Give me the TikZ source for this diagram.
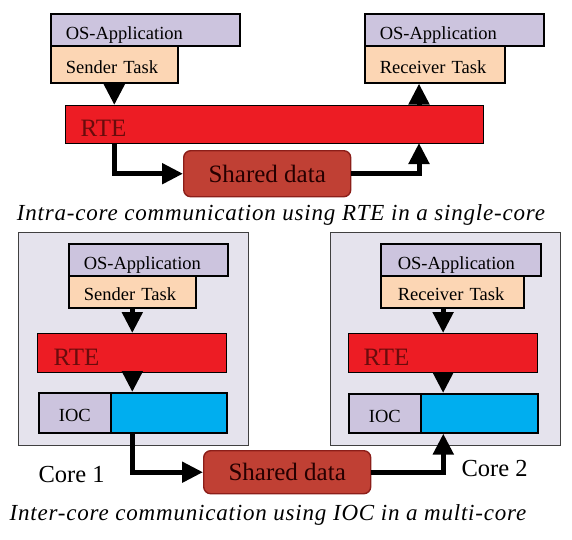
\documentclass[tikz,border=0pt]{standalone}
\usepackage{fontspec}
\setmainfont{Liberation Serif}
\newfontfamily\capfont[LetterSpace=3.5]{Liberation Serif}
\usetikzlibrary{arrows.meta,positioning}

\definecolor{osfill}{RGB}{204,196,222}
\definecolor{taskfill}{RGB}{252,214,180}
\definecolor{rtefill}{RGB}{237,28,36}
\definecolor{rtetext}{RGB}{105,12,12}
\definecolor{shfill}{RGB}{192,64,52}
\definecolor{shdraw}{RGB}{140,30,25}
\definecolor{iocfill}{RGB}{0,174,239}
\definecolor{corefill}{RGB}{229,227,237}

\begin{document}
\begin{tikzpicture}[x=1pt, y=-1pt, >={Triangle[width=20pt,length=21pt]},
    osbox/.style={draw, fill=osfill, line width=1.6pt, anchor=north west,
        minimum height=32pt, inner xsep=15pt, inner ysep=0pt,
        text height=20pt, text depth=0pt, align=left,
        font=\fontsize{18.5}{18.5}\selectfont},
    taskbox/.style={osbox, fill=taskfill, text height=18pt},
    rtebar/.style={draw, fill=rtefill, line width=1.2pt, anchor=north west,
        minimum height=38pt, inner xsep=15pt, inner ysep=0pt,
        text height=24pt, text depth=0pt, align=left, text=rtetext,
        font=\fontsize{25}{25}\selectfont},
    iocbar/.style={draw, fill=iocfill, line width=1.6pt, anchor=north west,
        minimum height=40pt},
    ioclab/.style={draw, fill=osfill, line width=1.6pt, anchor=north west,
        minimum height=40pt, minimum width=72pt, inner xsep=17pt,
        text height=18pt, text depth=0pt, align=left,
        font=\fontsize{18.5}{18.5}\selectfont},
    shared/.style={draw=shdraw, fill=shfill, line width=1.4pt, rounded corners=7pt,
        anchor=north west, minimum width=167pt, text=black!85!red,
        font=\fontsize{25}{25}\selectfont},
    corebox/.style={draw=black!75, fill=corefill, line width=1.3pt, anchor=north west,
        minimum width=230pt, minimum height=213pt},
    flow/.style={line width=5pt},
    caption/.style={font=\capfont\fontsize{23}{23}\selectfont\itshape, anchor=base},
    corelab/.style={font=\fontsize{24.5}{24.5}\selectfont, anchor=base west}
]
    \useasboundingbox (0,0) rectangle (572,539);

    % single-core: sender and receiver side
    \node[osbox, text width=159pt] (osT1) at (50,13) {OS-Application};
    \node[taskbox, text width=97pt, minimum height=37pt] (sendT) at (50,45) {Sender Task};
    \node[osbox, text width=149pt] (osT2) at (364,13) {OS-Application};
    \node[taskbox, text width=110pt, minimum height=37pt] (recvT) at (364,45) {Receiver Task};

    \node[rtebar, text width=388pt] (rteT) at (65,105) {RTE};
    \node[shared, minimum height=46pt] (shT) at (183,150) {Shared data};

    \coordinate (upT) at (419,143);

    % arrows
    \draw[flow,->] (sendT.south) -- (sendT.south |- rteT.north);
    \draw[flow,->] (rteT.south -| sendT.south) |- (shT.west);
    \draw[flow,->] (shT.east) -| (upT);
    \draw[flow,->] (upT |- rteT.north) -- (upT |- recvT.south);

    \node[caption] (capT) at (281,220) {Intra-core communication using RTE in a single-core};

    % multi-core: two cores
    \node[corebox] (core1) at (18,232) {};
    \node[corebox] (core2) at (330,232) {};

    \node[osbox, text width=129pt] (os1) at (68,243) {OS-Application};
    \node[taskbox, text width=97pt] (send1) at (68,275) {Sender Task};
    \node[rtebar, text width=157pt, inner xsep=16pt, minimum height=39pt] (rte1) at (37,333) {RTE};
    \node[iocbar, minimum width=188pt] (bar1) at (38,392) {};
    \node[ioclab] (ioc1) at (38,392) {IOC};

    \node[osbox, text width=126pt, inner xsep=17pt] (os2) at (380,243) {OS-Application};
    \node[taskbox, text width=109pt, inner xsep=17pt] (recv2) at (380,275) {Receiver Task};
    \node[rtebar, text width=159pt, minimum height=39pt] (rte2) at (348,333) {RTE};
    \node[iocbar, minimum width=189pt, minimum height=39pt] (bar2) at (348,393) {};
    \node[ioclab, inner xsep=19pt, minimum height=39pt] (ioc2) at (348,393) {IOC};

    \node[shared, minimum height=43pt] (shB) at (203,450) {Shared data};

    \node[corelab] (lab1) at (35,482) {Core 1};
    \node[corelab] (lab2) at (458,476) {Core 2};

    % arrows
    \draw[flow,->] (send1.south) -- (send1.south |- rte1.north);
    \draw[flow,->] (rte1.south -| send1.south) -- (send1.south |- bar1.north);
    \draw[flow,->] (bar1.south -| send1.south) |- (shB.west);
    \draw[flow,->] (rte2.north |- recv2.south) -- (rte2.north);
    \draw[flow,->] (rte2.south) -- (rte2.south |- bar2.north);
    \draw[flow,->] (shB.east) -| (bar2.south);

    \node[caption] (capB) at (268,520) {Inter-core communication using IOC in a multi-core};

\end{tikzpicture}
\end{document}
